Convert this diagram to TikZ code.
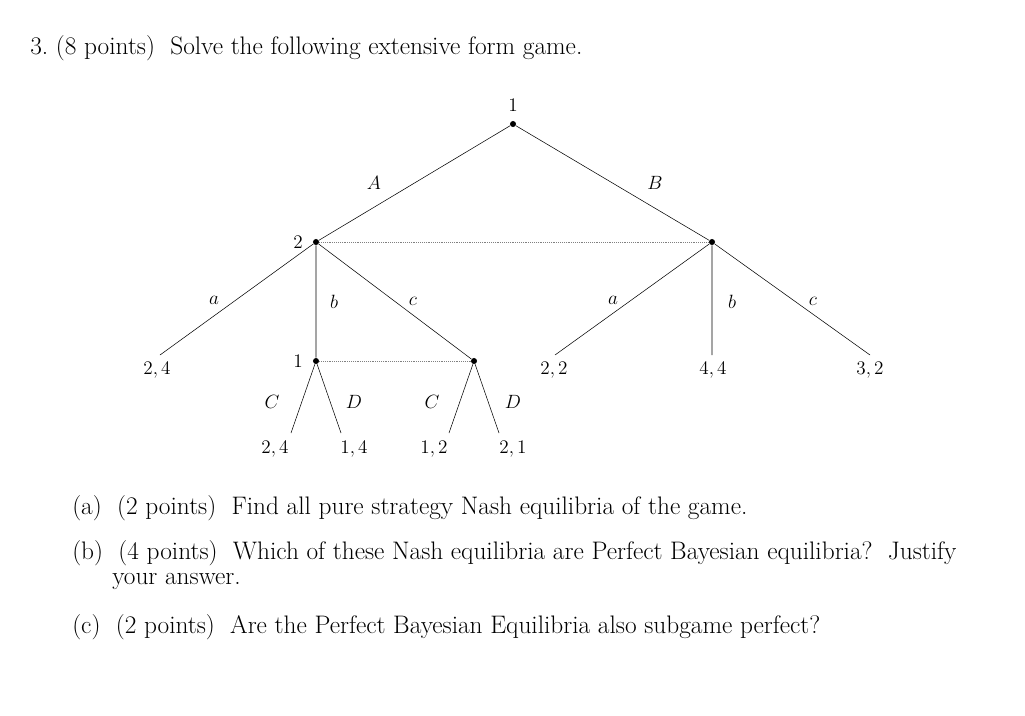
\documentclass[tikz,border=0pt]{standalone}
\begin{document}
\begin{tikzpicture}[x=0.75pt,y=-0.75pt,
  dot/.style={circle,fill,inner sep=1.6pt},
  lab/.style={font=\fontsize{14}{16}\selectfont},
  txt/.style={font=\fontsize{19}{22}\selectfont,anchor=west,inner sep=0}]
\useasboundingbox (0,0) rectangle (1025,715);
\node[txt] (title) at (30,48) {3.\ (8 points)\ \ Solve the following extensive form game.};
\node[dot] (r) at (513,124) {};
\node[dot] (L) at (316,242) {};
\node[dot] (R) at (712,242) {};
\node[dot] (L1) at (316,361) {};
\node[dot] (L2) at (474,361) {};
\coordinate (la) at (160,355); \coordinate (ra) at (555,355);
\coordinate (rb) at (712,355); \coordinate (rc) at (870,355);
\coordinate (c1) at (291,433); \coordinate (d1) at (341,433);
\coordinate (c2) at (449,433); \coordinate (d2) at (499,433);
\draw (r)--(L) (r)--(R) (L)--(la) (L)--(L1) (L)--(L2) (R)--(ra) (R)--(rb) (R)--(rc)
  (L1)--(c1) (L1)--(d1) (L2)--(c2) (L2)--(d2);
\draw[densely dotted,gray] (L)--(R) (L1)--(L2);
\node[lab] at (513,105) {$1$};
\node[lab] at (298,242) {$2$};
\node[lab] at (298,361) {$1$};
\node[lab] at (374,183) {$A$}; \node[lab] at (655,183) {$B$};
\node[lab] at (214,300) {$a$}; \node[lab] at (334,302) {$b$}; \node[lab] at (413,301) {$c$};
\node[lab] at (613,300) {$a$}; \node[lab] at (732,302) {$b$}; \node[lab] at (813,301) {$c$};
\node[lab] at (272,402) {$C$}; \node[lab] at (354,402) {$D$};
\node[lab] at (432,402) {$C$}; \node[lab] at (513,402) {$D$};
\node[lab] at (157,370) {$2,4$}; \node[lab] at (554,370) {$2,2$};
\node[lab] at (713,370) {$4,4$}; \node[lab] at (870,370) {$3,2$};
\node[lab] at (275,449) {$2,4$}; \node[lab] at (354,449) {$1,4$};
\node[lab] at (434,449) {$1,2$}; \node[lab] at (513,449) {$2,1$};
\node[txt] (qa) at (72,508) {(a)\ \ (2 points)\ \ Find all pure strategy Nash equilibria of the game.};
\node[txt] (qb) at (72,553) {(b)\ \ (4 points)\ \ Which of these Nash equilibria are Perfect Bayesian equilibria?\ \ Justify};
\node[txt] (qb2) at (112,581) {your answer.};
\node[txt] (qc) at (72,627) {(c)\ \ (2 points)\ \ Are the Perfect Bayesian Equilibria also subgame perfect?};
\end{tikzpicture}
\end{document}
